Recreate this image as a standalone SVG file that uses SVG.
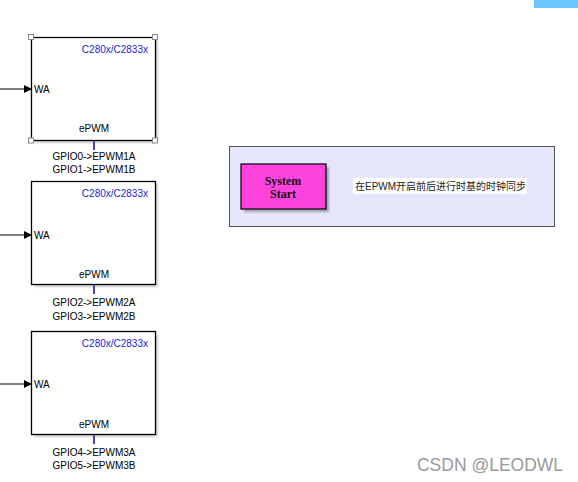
<svg xmlns="http://www.w3.org/2000/svg" width="578" height="482" viewBox="0 0 578 482">
<style>
.blk{fill:#fff;stroke:#000;stroke-width:1.3}
.shd{fill:#bbb;opacity:0.7}
.t{font-family:"Liberation Sans",Arial,sans-serif;font-size:10px;fill:#000}
.blue{fill:#2222dd}
.stub{stroke:#4646b8;stroke-width:2}
.h{fill:#fff;stroke:#888;stroke-width:1}
.wire{stroke:#000;stroke-width:1}
</style>
<defs>
<marker id="arr" markerWidth="8" markerHeight="8" refX="7" refY="4" orient="auto" markerUnits="userSpaceOnUse">
<path d="M0,0 L8,4 L0,8 Z" fill="#000"/>
</marker>
<filter id="blur" x="-10%" y="-10%" width="130%" height="130%"><feGaussianBlur stdDeviation="1.2"/></filter>
</defs>
<rect x="0" y="0" width="578" height="482" fill="#fff"/>
<rect x="534" y="0" width="44" height="8" fill="#6ec6ff"/>
<g id="connectors">
<line class="wire" x1="0" y1="89" x2="31" y2="89" marker-end="url(#arr)"/>
<line class="wire" x1="0" y1="235" x2="31" y2="235" marker-end="url(#arr)"/>
<line class="wire" x1="0" y1="384" x2="31" y2="384" marker-end="url(#arr)"/>
</g>
<g id="epwm1">
<rect class="shd" x="34" y="40" width="124" height="103" filter="url(#blur)"/>
<rect class="blk" x="31.5" y="37.5" width="124" height="103"/>
<text class="t blue" x="148" y="53" text-anchor="end">C280x/C2833x</text>
<text class="t" x="34" y="93">WA</text>
<text class="t" x="94" y="132" text-anchor="middle">ePWM</text>
<line class="stub" x1="94" y1="141" x2="94" y2="150"/>
<text class="t" x="94" y="160" text-anchor="middle">GPIO0-&gt;EPWM1A</text>
<text class="t" x="94" y="173" text-anchor="middle">GPIO1-&gt;EPWM1B</text>
<rect class="h" x="28.5" y="34.5" width="5" height="5"/>
<rect class="h" x="152.5" y="34.5" width="5" height="5"/>
<rect class="h" x="28.5" y="138" width="5" height="5"/>
<rect class="h" x="152.5" y="138" width="5" height="5"/>
</g>
<g id="epwm2">
<rect class="shd" x="34" y="184" width="124" height="103" filter="url(#blur)"/>
<rect class="blk" x="31.5" y="181.5" width="124" height="103"/>
<text class="t blue" x="148" y="197" text-anchor="end">C280x/C2833x</text>
<text class="t" x="34" y="239">WA</text>
<text class="t" x="94" y="278" text-anchor="middle">ePWM</text>
<line class="stub" x1="94" y1="285" x2="94" y2="294"/>
<text class="t" x="94" y="306" text-anchor="middle">GPIO2-&gt;EPWM2A</text>
<text class="t" x="94" y="320" text-anchor="middle">GPIO3-&gt;EPWM2B</text>
</g>
<g id="epwm3">
<rect class="shd" x="34" y="334" width="124" height="103" filter="url(#blur)"/>
<rect class="blk" x="31.5" y="331.5" width="124" height="103"/>
<text class="t blue" x="148" y="347" text-anchor="end">C280x/C2833x</text>
<text class="t" x="34" y="388">WA</text>
<text class="t" x="94" y="428" text-anchor="middle">ePWM</text>
<line class="stub" x1="94" y1="435" x2="94" y2="444"/>
<text class="t" x="94" y="456" text-anchor="middle">GPIO4-&gt;EPWM3A</text>
<text class="t" x="94" y="469" text-anchor="middle">GPIO5-&gt;EPWM3B</text>
</g>
<g id="area">
<rect x="229.5" y="146.5" width="325" height="80" fill="#e5e5fb" stroke="#555" stroke-width="1"/>
<rect x="353" y="178" width="174" height="16" fill="#fff"/>
<text x="355" y="190" font-family="Liberation Sans,'Noto Sans CJK SC',sans-serif" font-size="10" fill="#222">在EPWM开启前后进行时基的时钟同步</text>
</g>
<g id="systemstart">
<rect x="244" y="167" width="85" height="45" fill="#777" opacity="0.6" filter="url(#blur)"/>
<rect x="241" y="164" width="85" height="45" fill="#ff44dd" stroke="#000" stroke-width="1.2"/>
<text x="283" y="185" text-anchor="middle" font-family="'Liberation Serif',serif" font-weight="bold" font-size="12" fill="#111">System</text>
<text x="283" y="198" text-anchor="middle" font-family="'Liberation Serif',serif" font-weight="bold" font-size="12" fill="#111">Start</text>
</g>
<text x="490" y="471" text-anchor="middle" font-family="'Liberation Sans',sans-serif" font-size="17.5" fill="#999">CSDN @LEODWL</text>
</svg>
